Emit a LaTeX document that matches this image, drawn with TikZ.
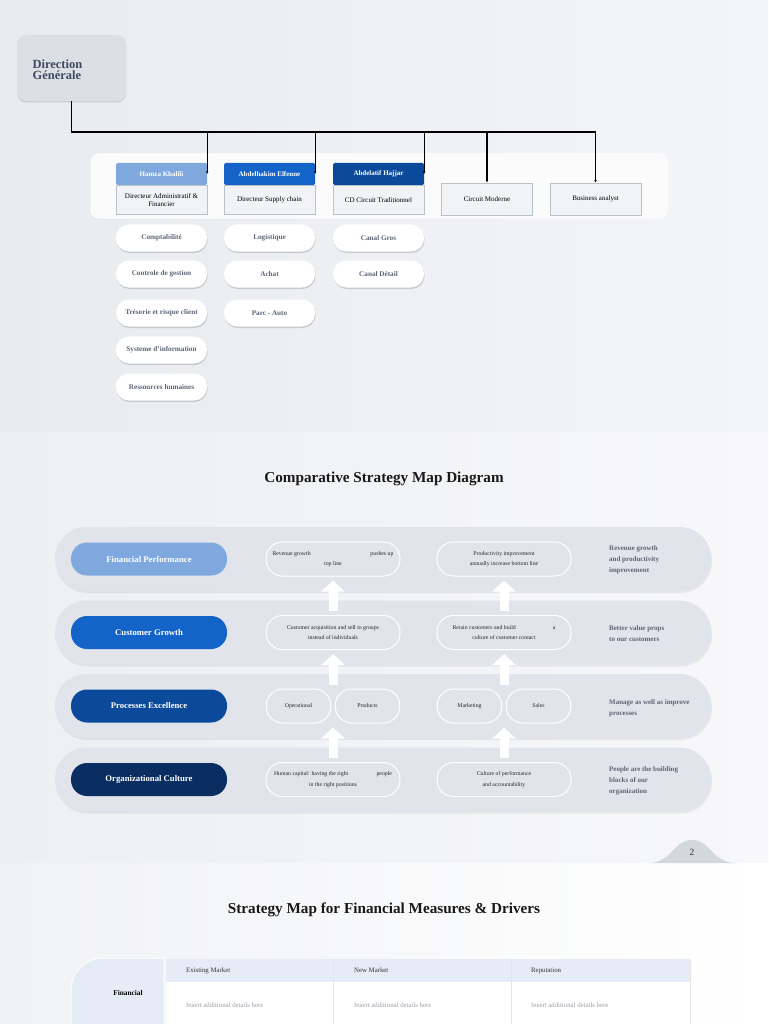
\documentclass[tikz,border=0pt]{standalone}
\usepackage{fontspec}
\setmainfont{Liberation Serif}
\usepackage{tikz}
\usetikzlibrary{
  positioning,
  calc,
  arrows.meta,
  shadows
}
\definecolor{bgA}{HTML}{E8EBEF}
\definecolor{bgB}{HTML}{F4F5F8}
\definecolor{bgC}{HTML}{EDEFF3}
\definecolor{bgD}{HTML}{F8F8FA}
\definecolor{bgE}{HTML}{F1F2F5}
\definecolor{dgfill}{HTML}{DCDFE4}
\definecolor{dgtext}{HTML}{3D4863}
\definecolor{lightblue}{HTML}{7FA9DE}
\definecolor{midblue}{HTML}{1463C9}
\definecolor{darkblue}{HTML}{0B4A9B}
\definecolor{navy}{HTML}{0B2E62}
\definecolor{boxline}{HTML}{B9C1C9}
\definecolor{boxfill}{HTML}{F1F3F6}
\definecolor{pilltext}{HTML}{5B6679}
\definecolor{bandfill}{HTML}{E1E4EA}
\definecolor{notetext}{HTML}{5C6372}
\definecolor{bumpfill}{HTML}{D3D8DC}
\definecolor{tabfill}{HTML}{E6ECF5}
\definecolor{hdrfill}{HTML}{E5ECF5}
\definecolor{gridline}{HTML}{E0E6EE}
\definecolor{greytext}{HTML}{9AA0A8}

\tikzstyle{softshadow}=[drop shadow={shadow xshift=0pt, shadow yshift=-1.5pt, opacity=.12, fill=black}]
\tikzstyle{orgline}=[line width=1.1pt, -{Latex[length=2.5pt,width=2.5pt]}]
\tikzstyle{dgbox}=[rectangle, rounded corners=9pt, fill=dgfill, minimum width=109pt, minimum height=66pt, softshadow]
\tikzstyle{head}=[rectangle, rounded corners=1.5pt, minimum width=91pt, minimum height=22pt, inner sep=0pt, text=white, font=\fontsize{7}{8}\selectfont\bfseries]
\tikzstyle{role}=[rectangle, draw=boxline, fill=boxfill, line width=.6pt, minimum width=91pt, minimum height=29pt, inner sep=0pt, align=center, font=\fontsize{7}{8.5}\selectfont]
\tikzstyle{unitpill}=[rectangle, rounded corners=13pt, fill=white, minimum width=91pt, minimum height=27pt, inner sep=0pt, text=pilltext, font=\fontsize{7.2}{8}\selectfont\bfseries, drop shadow={shadow xshift=.5pt, shadow yshift=-1.5pt, opacity=.15, fill=black}]
\tikzstyle{band}=[rectangle, rounded corners=31.5pt, fill=bandfill, minimum width=656pt, minimum height=64pt, inner sep=0pt, drop shadow={shadow xshift=1pt, shadow yshift=-2pt, opacity=.06, fill=black}]
\tikzstyle{levelpill}=[rectangle, rounded corners=16pt, minimum width=156pt, minimum height=33pt, inner sep=0pt, text=white, font=\fontsize{8.7}{10}\selectfont\bfseries]
\tikzstyle{goalpill}=[rectangle, rounded corners=16.5pt, draw=white, line width=1pt, fill=bandfill, minimum width=134pt, minimum height=34pt, inner sep=0pt, align=center, text=black!85, font=\fontsize{5.8}{10.5}\selectfont]
\tikzstyle{halfpill}=[goalpill, minimum width=64.5pt]
\tikzstyle{note}=[anchor=west, align=left, inner sep=0pt, text=notetext, font=\fontsize{7}{11}\selectfont\bfseries]
\tikzstyle{uparrow}=[white, line width=9pt, -{Triangle[width=23pt,length=11pt]}, shorten <=4pt, shorten >=4pt]
\tikzstyle{slidetitle}=[font=\fontsize{15.2}{17}\selectfont\bfseries, text=black!90]

\begin{document}
\begin{tikzpicture}[x=1pt,y=-1pt]
    \clip (0,0) rectangle (768,1024);

    % 背景
    \shade[left color=bgA, right color=bgB] (0,0) rectangle (768,432);
    \shade[left color=bgC, right color=bgD] (0,432) rectangle (768,863);
    \shade[left color=bgE, right color=white] (0,863) rectangle (768,1024);

    % 組織図
    \node[dgbox] (dg) at (71.5,68) {};
    \node[anchor=west, align=left, text=dgtext, font=\fontsize{12.5}{11}\selectfont\bfseries] (dgname) at (29,70) {Direction\\Générale};

    \fill[white!60!bgB, draw=white, line width=1pt, rounded corners=8pt] (91,154) rectangle (667,218);

    \node[head, fill=lightblue] (hamza) at (161.5,174) {Hamza Khalili};
    \node[role, below=0pt of hamza] (hamza-role) {Directeur Administratif \&\\Financier};
    \node[head, fill=midblue] (abdelhakim) at (269.5,174) {Abdelhakim Elfenne};
    \node[role, below=0pt of abdelhakim] (abdelhakim-role) {Directeur Supply chain};
    \node[head, fill=darkblue] (abdelatif) at (378.5,174) {Abdelatif Hajjar};
    \node[role, below=0pt of abdelatif] (abdelatif-role) {CD Circuit Traditionnel};
    \node[role, minimum height=32pt] (moderne) at (487,199) {Circuit Moderne};
    \node[role, minimum height=32pt] (analyst) at (595.5,199) {Business analyst};

    % 接続線
    \coordinate (bus) at (71,132);
    \foreach \n in {hamza,abdelhakim,abdelatif}
      \draw[orgline] (dg.south) |- (bus) -| (\n.east);
    \foreach \n in {moderne,analyst}
      \draw[orgline] (dg.south) |- (bus) -| (\n.north);

    % 部門
    \foreach \t/\y [count=\i] in {Comptabilité/238, Controle de gestion/274, Trésorie et risque client/313, Systeme d'information/350, Ressources humaines/387}
      \node[unitpill] (fin-\i) at (161.5,\y) {\t};
    \foreach \t/\y [count=\i] in {Logistique/238, Achat/274, Parc - Auto/313}
      \node[unitpill] (sc-\i) at (269.5,\y) {\t};
    \foreach \t/\y [count=\i] in {Canal Gros/238, Canal Détail/274}
      \node[unitpill] (ct-\i) at (378.5,\y) {\t};

    % 戦略マップ
    \node[slidetitle] (title-a) at (384,479) {Comparative Strategy Map Diagram};

    \foreach \lab/\col/\y [count=\i] in {Financial Performance/lightblue/559, Customer Growth/midblue/632.5, Processes Excellence/darkblue/706, Organizational Culture/navy/779.5}
    {
      \node[band] (band-\i) at (383,\y) {};
      \node[levelpill, fill=\col] (level-\i) at (149,\y) {\lab};
    }

    \node[goalpill] (fp-a) at (333,559) {\makebox[121pt]{Revenue growth\hfill pushes up}\\top line};
    \node[goalpill] (fp-b) at (504,559) {Productivity improvement\\annually increase bottom line};
    \node[goalpill] (cg-a) at (333,632.5) {Customer acquisition and sell to groups\\instead of individuals};
    \node[goalpill] (cg-b) at (504,632.5) {\makebox[103pt]{Retain customers and build\hfill a}\\culture of customer contact};
    \node[halfpill] (pe-a1) at (298.5,706) {Operational};
    \node[halfpill] (pe-a2) at (367.5,706) {Products};
    \node[halfpill] (pe-b1) at (469.5,706) {Marketing};
    \node[halfpill] (pe-b2) at (538.5,706) {Sales};
    \node[goalpill] (oc-a) at (333,779.5) {\makebox[118pt]{Human capital: having the right\hfill people}\\in the right positions};
    \node[goalpill] (oc-b) at (504,779.5) {Culture of performance\\and accountability};

    \node[note] (note-1) at (609,560) {Revenue growth\\and productivity\\improvement};
    \node[note] (note-2) at (609,634) {Better value props\\to our customers};
    \node[note] (note-3) at (609,708.5) {Manage as well as improve\\processes};
    \node[note] (note-4) at (609,780.5) {People are the building\\blocks of our\\organization};

    % 矢印
    \draw[uparrow] (cg-a.north) -- (fp-a.south);
    \draw[uparrow] (cg-b.north) -- (fp-b.south);
    \draw[uparrow] (cg-a.south |- pe-a1.north) -- (cg-a.south);
    \draw[uparrow] (cg-b.south |- pe-b1.north) -- (cg-b.south);
    \draw[uparrow] (oc-a.north) -- (oc-a.north |- pe-a1.south);
    \draw[uparrow] (oc-b.north) -- (oc-b.north |- pe-b1.south);

    % ページ番号
    \fill[bumpfill] (648,863) .. controls (672,863) and (673,840) .. (692,840) .. controls (711,840) and (712,863) .. (736,863) -- cycle;
    \node[font=\fontsize{9.5}{10}\selectfont, text=black!80] (pagenum) at (692,852.5) {2};

    % 財務指標の表
    \node[slidetitle] (title-b) at (384,910) {Strategy Map for Financial Measures \& Drivers};

    \fill[white, drop shadow={shadow xshift=1pt, shadow yshift=-1pt, opacity=.1, fill=black}] (166,959) rectangle (690,1040);
    \fill[hdrfill] (166,959) rectangle (690,982);
    \draw[gridline, line width=.7pt] (333,959) -- (333,1040) (511,959) -- (511,1040);
    \fill[tabfill, draw=white, line width=1pt] (164,958) [rounded corners=32pt] -- (71,958) [sharp corners] -- (71,1040) -- (164,1040) -- cycle;

    \node[font=\fontsize{7.3}{8}\selectfont\bfseries] (fin-tab) at (128,993) {Financial};
    \foreach \t/\x [count=\i] in {Existing Market/186, New Market/354, Reputation/531}
    {
      \node[anchor=base west, inner sep=0pt, font=\fontsize{6.8}{8}\selectfont, text=black!80] (col-\i) at (\x,972.5) {\t};
      \node[anchor=base west, inner sep=0pt, font=\fontsize{6.8}{8}\selectfont, text=greytext] (cell-\i) at (\x,1007.5) {Insert additional details here};
    }
\end{tikzpicture}
\end{document}
